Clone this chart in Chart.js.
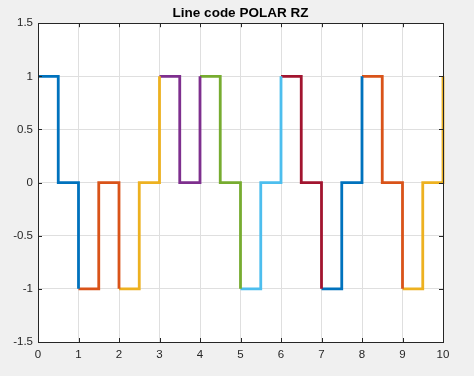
<!DOCTYPE html>
<html>
<head>
<meta charset="utf-8">
<script src="https://cdn.jsdelivr.net/npm/chart.js@4"></script>
<style>
  html, body { margin: 0; padding: 0; background: #f0f0f0; }
  #wrap { width: 474px; height: 376px; }
</style>
</head>
<body>
<div id="wrap"><canvas id="rzChart" width="474" height="376"></canvas></div>
<script>
"use strict";

// Polar RZ: рівень кожного біта (+1 / -1), останній - рівень, до якого йде фронт на x=10
const bitLevels = [1, -1, -1, 1, 1, -1, 1, -1, 1, -1, 1];
const bitWidth = 1;
const xTicks = [0, 1, 2, 3, 4, 5, 6, 7, 8, 9, 10];
const yTicks = [-1.5, -1, -0.5, 0, 0.5, 1, 1.5];
// MATLAB default color order
const lineColors = ['#0072BD', '#D95319', '#EDB120', '#7E2F8E', '#77AC30', '#4DBEEE', '#A2142F'];

// кожен біт - окремий відрізок: половина на рівні, половина в нулі, потім фронт до наступного біта
const datasets = [];
for (let i = 0; i < bitLevels.length - 1; i++) {
    const t0 = i * bitWidth;
    const tm = t0 + bitWidth / 2;
    const t1 = t0 + bitWidth;
    datasets.push({
        data: [
            { x: t0, y: bitLevels[i] },
            { x: tm, y: bitLevels[i] },
            { x: tm, y: 0 },
            { x: t1, y: 0 },
            { x: t1, y: bitLevels[i + 1] }
        ],
        borderColor: lineColors[i % lineColors.length],
        borderWidth: 2.8,
        pointRadius: 0,
        tension: 0,
        fill: false,
        clip: false
    });
}

// рамка навколо осей + внутрішні мітки, як у MATLAB
const boxPlugin = {
    id: 'boxTicks',
    afterDatasetsDraw(chart) {
        const { ctx, chartArea: a, scales } = chart;
        const len = 4;
        ctx.save();
        ctx.strokeStyle = '#262626';
        ctx.lineWidth = 1;
        ctx.beginPath();
        xTicks.forEach(v => {
            const px = Math.round(scales.x.getPixelForValue(v)) + 0.5;
            ctx.moveTo(px, a.bottom); ctx.lineTo(px, a.bottom - len);
            ctx.moveTo(px, a.top); ctx.lineTo(px, a.top + len);
        });
        yTicks.forEach(v => {
            const py = Math.round(scales.y.getPixelForValue(v)) + 0.5;
            ctx.moveTo(a.left, py); ctx.lineTo(a.left + len, py);
            ctx.moveTo(a.right, py); ctx.lineTo(a.right - len, py);
        });
        ctx.stroke();
        ctx.strokeRect(Math.round(a.left) + 0.5, Math.round(a.top) + 0.5,
            Math.round(a.right - a.left), Math.round(a.bottom - a.top));
        ctx.restore();
    }
};

const bgPlugin = {
    id: 'plotBg',
    beforeDraw(chart) {
        const { ctx, chartArea: a } = chart;
        ctx.save();
        ctx.fillStyle = '#ffffff';
        ctx.fillRect(a.left, a.top, a.right - a.left, a.bottom - a.top);
        ctx.restore();
    }
};

new Chart(document.getElementById('rzChart'), {
    type: 'line',
    data: { datasets: datasets },
    plugins: [bgPlugin, boxPlugin],
    options: {
        responsive: false,
        animation: false,
        layout: { padding: { left: 0, right: 31, top: 0, bottom: 0 } },
        scales: {
            x: {
                type: 'linear',
                min: 0,
                max: 10,
                afterBuildTicks: s => { s.ticks = xTicks.map(v => ({ value: v })); },
                afterFit: s => { s.height = 34; },
                ticks: {
                    color: '#262626',
                    font: { family: 'Liberation Sans, Arial', size: 11.5 },
                    padding: 6,
                    maxRotation: 0,
                    callback: v => String(v)
                },
                grid: { color: '#dfdfdf', drawTicks: false },
                border: { display: false }
            },
            y: {
                min: -1.5,
                max: 1.5,
                afterBuildTicks: s => { s.ticks = yTicks.map(v => ({ value: v })); },
                afterFit: s => { s.width = 38; },
                ticks: {
                    color: '#262626',
                    font: { family: 'Liberation Sans, Arial', size: 11.5 },
                    padding: 5,
                    callback: v => String(v)
                },
                grid: { color: '#dfdfdf', drawTicks: false },
                border: { display: false }
            }
        },
        plugins: {
            legend: { display: false },
            tooltip: { enabled: false },
            title: {
                display: true,
                text: 'Line code POLAR RZ',
                fullSize: false,
                color: '#000000',
                font: { family: 'Liberation Sans, Arial', size: 13.5, weight: 'bold' },
                padding: { top: 5, bottom: 2 }
            }
        }
    }
});
</script>
</body>
</html>
